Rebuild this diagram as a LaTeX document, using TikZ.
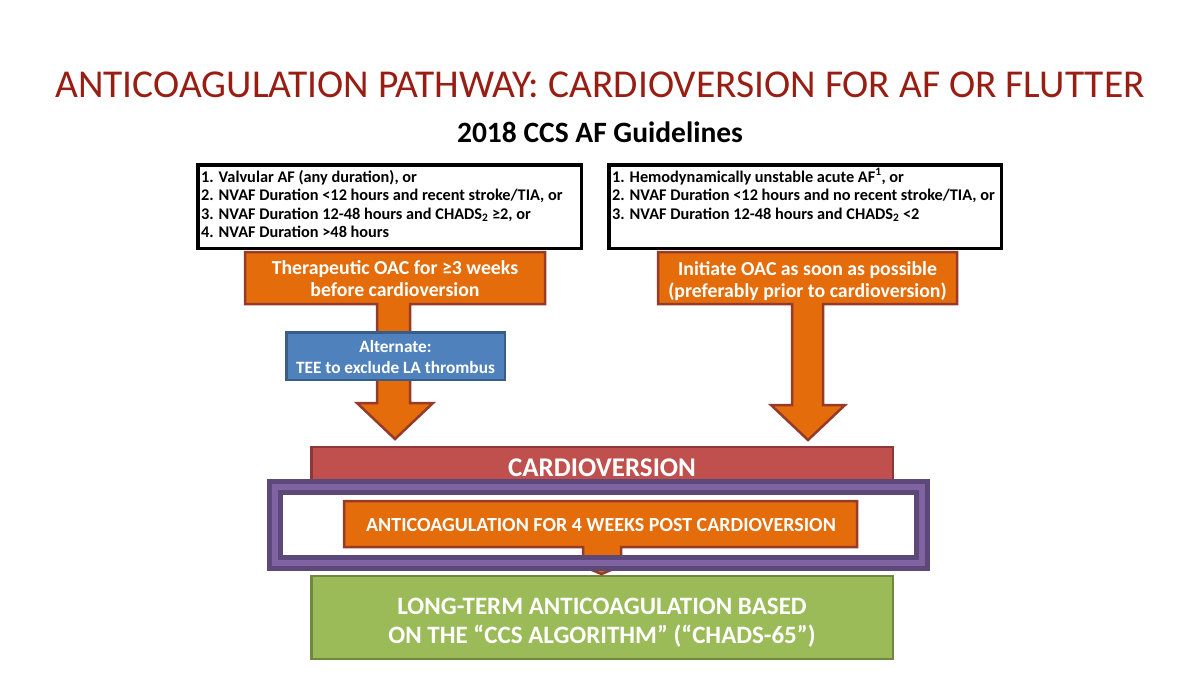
\documentclass[tikz,border=0pt]{standalone}
\usepackage{fontspec}
\setmainfont{Carlito}
\newcommand\fsz[2]{\fontsize{#1pt}{#2pt}\selectfont}
\definecolor{titleC}{RGB}{152,30,20}
\definecolor{orangeF}{RGB}{228,108,10}
\definecolor{orangeB}{RGB}{150,58,42}
\definecolor{blueF}{RGB}{79,129,189}
\definecolor{blueB}{RGB}{56,93,138}
\definecolor{redF}{RGB}{192,80,77}
\definecolor{redB}{RGB}{140,56,54}
\definecolor{greenF}{RGB}{155,187,89}
\definecolor{greenB}{RGB}{113,137,63}
\definecolor{purpD}{RGB}{93,72,122}
\definecolor{purpL}{RGB}{128,100,162}
\tikzset{
  blackbox/.style={draw=black, line width=3.5pt, fill=white, inner sep=0pt},
  orng/.style={fill=orangeF, draw=orangeB, line width=2.5pt, line join=miter},
  colbox/.style={line width=2.5pt, inner sep=0pt},
  wtext/.style={text=white, font=\bfseries\fsz{19.8}{22}, anchor=base, inner sep=0pt},
  btext/.style={text=white, font=\bfseries\fsz{17.3}{20}, anchor=base, inner sep=0pt},
  ltext/.style={font=\bfseries\fsz{16.3}{18}, anchor=base west, inner sep=0pt},
}
\begin{document}
\begin{tikzpicture}[x=1pt,y=-1pt]
\useasboundingbox[fill=white] (0,0) rectangle (1200,675);
% titles
\node[anchor=base, inner sep=0pt, text=titleC, font=\fsz{39.5}{44}] (title) at (600,97) {ANTICOAGULATION PATHWAY: CARDIOVERSION FOR AF OR FLUTTER};
\node[anchor=base, inner sep=0pt, font=\bfseries\fsz{29.5}{32}] (sub) at (600,142) {2018 CCS AF Guidelines};
% condition boxes
\node[blackbox, minimum width=383.5pt, minimum height=83.5pt] (lbox) at (389.5,206.5) {};
\node[blackbox, minimum width=392.5pt, minimum height=83.5pt] (rbox) at (805,206.5) {};
\node[ltext] (l1) at (201,182) {1. Valvular AF (any duration), or};
\node[ltext] (l2) at (201,200.5) {2. NVAF Duration <12 hours and recent stroke/TIA, or};
\node[ltext] (l3) at (201,219) {3. NVAF Duration 12-48 hours and CHADS\textsubscript{2} ≥2, or};
\node[ltext] (l4) at (201,237.5) {4. NVAF Duration >48 hours};
\node[ltext] (r1) at (612,182) {1. Hemodynamically unstable acute AF\textsuperscript{1}, or};
\node[ltext] (r2) at (612,200.5) {2. NVAF Duration <12 hours and no recent stroke/TIA, or};
\node[ltext] (r3) at (612,219) {3. NVAF Duration 12-48 hours and CHADS\textsubscript{2} <2};
% left callout
\path[orng] (245,252) -- (545,252) -- (545,304) -- (410,304) -- (410,403) -- (433,403) -- (395,439) -- (357,403) -- (377,403) -- (377,304) -- (245,304) -- cycle;
\node[wtext] (lo1) at (395,274) {Therapeutic OAC for ≥3 weeks};
\node[wtext] (lo2) at (395,296) {before cardioversion};
% blue alternate
\node[colbox, fill=blueF, draw=blueB, minimum width=218.5pt, minimum height=47.5pt] (alt) at (395.5,356) {};
\node[btext] (alt1) at (395.5,352) {Alternate:};
\node[btext] (alt2) at (395.5,373) {TEE to exclude LA thrombus};
% right callout
\path[orng] (658,252) -- (957,252) -- (957,304) -- (823,304) -- (823,405) -- (845,405) -- (808,440) -- (771,405) -- (792,405) -- (792,304) -- (658,304) -- cycle;
\node[wtext] (ro1) at (807.5,275) {Initiate OAC as soon as possible};
\node[wtext] (ro2) at (807.5,297) {(preferably prior to cardioversion)};
% cardioversion
\node[colbox, fill=redF, draw=redB, minimum width=581.5pt, minimum height=40pt] (cv) at (602,467) {};
% long term
\node[colbox, fill=greenF, draw=greenB, minimum width=581.5pt, minimum height=83pt] (lt) at (602,617.5) {};
% frame
\fill[white] (283,494) rectangle (913,555);
\path[orng] (344,501) -- (857,501) -- (857,547) -- (621,547) -- (621,557) -- (642,557) -- (601.5,574) -- (561,557) -- (583,557) -- (583,547) -- (344,547) -- cycle;
\draw[purpD, line width=16pt] (275,486.5) rectangle (921.5,563);
\draw[purpL, line width=6pt] (275,486.5) rectangle (921.5,563);
% texts
\node[anchor=base, inner sep=0pt, text=white, font=\bfseries\fsz{27}{30}] (cvt) at (602,476) {CARDIOVERSION};
\node[anchor=base, inner sep=0pt, text=white, font=\bfseries\fsz{20}{22}] (ac) at (601,531) {ANTICOAGULATION FOR 4 WEEKS POST CARDIOVERSION};
\node[anchor=base, inner sep=0pt, text=white, font=\bfseries\fsz{25}{28}] (lt1) at (602,614) {LONG-TERM ANTICOAGULATION BASED};
\node[anchor=base, inner sep=0pt, text=white, font=\bfseries\fsz{25}{28}] (lt2) at (602,643) {ON THE “CCS ALGORITHM” (“CHADS-65”)};
\end{tikzpicture}
\end{document}
